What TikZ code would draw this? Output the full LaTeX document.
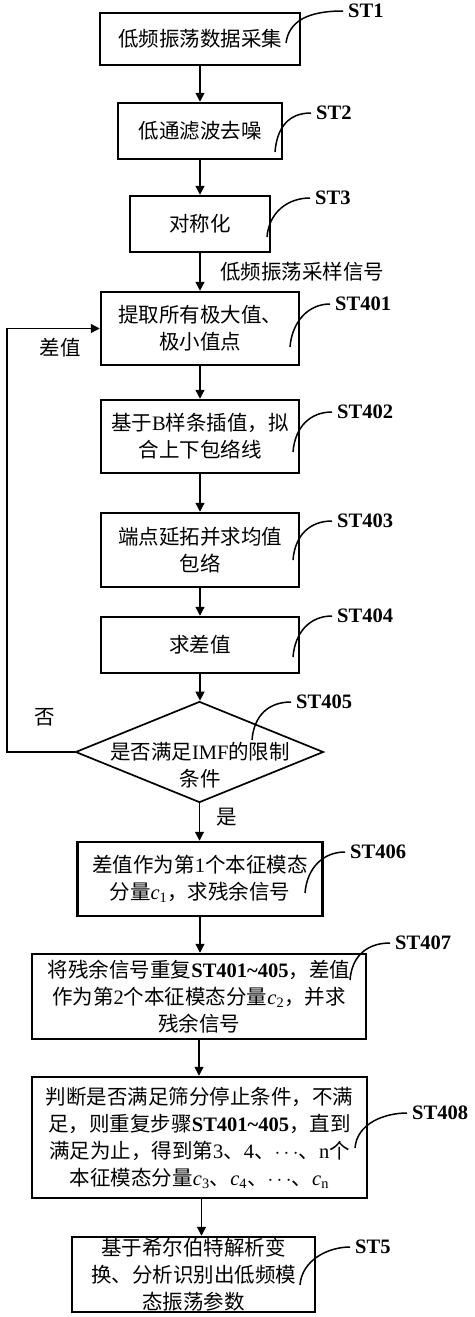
\documentclass[tikz,border=0pt]{standalone}
\usepackage{fontspec}
\setmainfont{Noto Sans CJK SC}
\newfontfamily\tnr{Liberation Serif}
\usetikzlibrary{calc}
\usetikzlibrary{arrows.meta}
\usetikzlibrary{shapes.geometric}

\newcommand\compc[1]{{\tnr\itshape c}\textsubscript{\tnr #1}}
\newcommand\strange{{\tnr\bfseries ST401\textasciitilde405}}
\newcommand\middots{\ensuremath{\cdots}}

\begin{document}
\begin{tikzpicture} [x=1pt, y=-1pt,
  every node/.style={font=\fontsize{20.5}{27}\selectfont},
  stepbox/.style={draw, line width=2.5pt, inner sep=0pt, align=center},
  decision/.style={diamond, draw, line width=1.7pt, inner sep=0pt, minimum width=248pt, minimum height=101pt},
  flow/.style={line width=1.3pt, -{Triangle[length=9pt, width=9pt]}},
  tagline/.style={line width=1.5pt},
  steplabel/.style={anchor=west, inner xsep=5pt, inner ysep=0pt, font=\fontsize{20.5}{24}\selectfont\tnr\bfseries}]

\useasboundingbox (0,0) rectangle (474,1317);

% steps
\node[stepbox, minimum width=200pt, minimum height=52pt] (s1) at (200,39) {低频振荡数据采集};
\node[stepbox, minimum width=164pt, minimum height=56pt] (s2) at (200,131) {低通滤波去噪};
\node[stepbox, minimum width=140pt, minimum height=56pt] (s3) at (200,224) {对称化};
\node[stepbox, minimum width=198pt, minimum height=73pt] (s401) at (200,328.5) {提取所有极大值、\\极小值点};
\node[stepbox, minimum width=198pt, minimum height=73pt] (s402) at (200,436.5) {基于{\tnr B}样条插值，拟\\合上下包络线};
\node[stepbox, minimum width=198pt, minimum height=74pt] (s403) at (200,550) {端点延拓并求均值\\包络};
\node[stepbox, minimum width=198pt, minimum height=56pt] (s404) at (200,645) {求差值};
\node[decision] (s405) at (199.5,752) {};
\node[align=center, inner sep=0pt] (q405) at (200,765) {是否满足{\tnr IMF}的限制\\条件};
\node[stepbox, minimum width=245pt, minimum height=74pt] (s406) at (200,879) {差值作为第{\tnr 1}个本征模态\\分量\compc{1}，求残余信号};
\node[stepbox, minimum width=334pt, minimum height=85pt] (s407) at (199,996.5) {将残余信号重复\strange，差值\\作为第{\tnr 2}个本征模态分量\compc{2}，并求\\残余信号};
\node[stepbox, minimum width=335pt, minimum height=121pt] (s408) at (199.5,1137.5) {判断是否满足筛分停止条件，不满\\足，则重复步骤\strange，直到\\满足为止，得到第{\tnr 3}、{\tnr 4}、\middots、{\tnr n}个\\本征模态分量\compc{3}、\compc{4}、\middots、\compc{n}};
\node[stepbox, minimum width=243pt, minimum height=75pt] (s5) at (193.5,1274.5) {基于希尔伯特解析变\\换、分析识别出低频模\\态振荡参数};

% arrows
\foreach \a/\b in {s1/s2, s2/s3, s3/s401, s401/s402, s402/s403, s403/s404, s404/s405, s405/s406, s406/s407, s407/s408}
  \draw[flow] (\a.south) -- (\a.south |- \b.north);
\draw[flow] ($(s408.south)+(2,0)$) -- ($(s408.south |- s5.north)+(2,0)$);

\node[anchor=west, inner sep=0pt] (sig) at (220,272) {低频振荡采样信号};

% loop back
\coordinate (back) at (7,752);
\draw[flow] (s405.west) -- (back) |- (s401.west);
\node (cz) at (60,348) {差值};
\node (no) at (45,717) {否};
\node (yes) at (227,817) {是};

% step numbers
\node[steplabel] (t1) at (343,11) {ST1};
\node[steplabel] (t2) at (311,113) {ST2};
\node[steplabel] (t3) at (310,198) {ST3};
\node[steplabel] (t401) at (330,304) {ST401};
\node[steplabel] (t402) at (332,412) {ST402};
\node[steplabel] (t403) at (332,521) {ST403};
\node[steplabel] (t404) at (332,616) {ST404};
\node[steplabel] (t405) at (291,702) {ST405};
\node[steplabel] (t406) at (345,852) {ST406};
\node[steplabel] (t407) at (390,943) {ST407};
\node[steplabel] (t408) at (407,1113) {ST408};
\node[steplabel] (t5) at (350,1247) {ST5};

\coordinate (h1) at (286,43);
\coordinate (h2) at (275,152);
\coordinate (h3) at (267,237);
\coordinate (h401) at (290,347);
\coordinate (h402) at (293,452);
\coordinate (h403) at (293,560);
\coordinate (h404) at (293,657);
\coordinate (h405) at (252,740);
\coordinate (h406) at (305,893);
\coordinate (h407) at (350,980);
\coordinate (h408) at (355,1148);
\coordinate (h5) at (300,1285);

\draw[tagline] (h1) .. controls +(3,-22) and +(-35,0) .. (t1.west);
\foreach \n in {2, 3, 401, 402, 403, 404, 405, 406, 407, 408, 5}
  \draw[tagline] (h\n) .. controls +(2,-25) and +(-22,0) .. (t\n.west);

\end{tikzpicture}
\end{document}
